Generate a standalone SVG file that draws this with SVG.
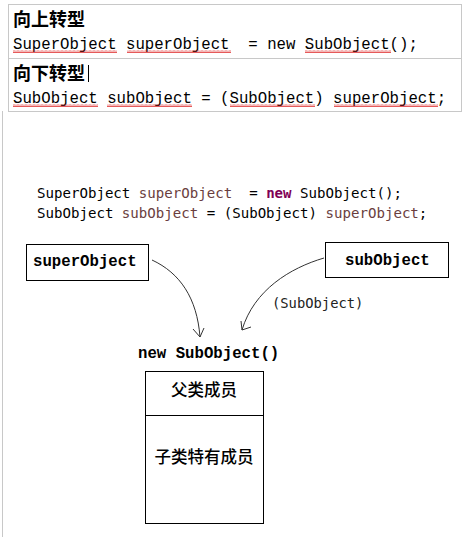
<svg xmlns="http://www.w3.org/2000/svg" width="475" height="537" viewBox="0 0 475 537">
<style>
.cn{font-family:"Noto Sans CJK SC","Noto Sans",sans-serif;fill:#000}
.m1{font-family:"Liberation Mono",monospace;font-size:15.7px;fill:#000}
.ec{font-family:"DejaVu Sans Mono",monospace;font-size:14.1px;fill:#000}
.v{fill:#6A3E3E}
.k{fill:#7F0055;font-weight:bold}
.box{fill:#fff;stroke:#000;stroke-width:1}
.bt{font-family:"Liberation Mono",monospace;font-size:15.7px;font-weight:bold;fill:#000}
.wave{fill:none;stroke:#e03030;stroke-width:0.8}
.conn{fill:none;stroke:#333;stroke-width:1}
</style>
<defs>
<pattern id="wv" x="0" y="0" width="4" height="3" patternUnits="userSpaceOnUse">
<path d="M0,2.5 L1,0.5 L2,2.5 L3,0.5 L4,2.5" fill="none" stroke="#e03030" stroke-width="0.8"/>
</pattern>
</defs>
<rect width="475" height="537" fill="#fff"/>
<line x1="2.5" y1="111" x2="2.5" y2="537" stroke="#c8c8c8" stroke-width="1"/>
<g id="table">
<rect x="8.5" y="4.5" width="453" height="107" fill="#fff" stroke="#c8c8c8" stroke-width="1"/>
<line x1="8.5" y1="58.5" x2="461.5" y2="58.5" stroke="#c8c8c8" stroke-width="1"/>
<text class="cn" x="13" y="26" font-size="18" font-weight="bold">向上转型</text>
<text class="m1" x="13" y="49" xml:space="preserve">SuperObject superObject  = new SubObject();</text>
<text class="cn" x="13" y="80" font-size="18" font-weight="bold">向下转型</text>
<line x1="88.5" y1="65" x2="88.5" y2="82" stroke="#000" stroke-width="1"/>
<text class="m1" x="13" y="103" xml:space="preserve">SubObject subObject = (SubObject) superObject;</text>
<g id="squiggles">
<rect x="13" y="50" width="104" height="3" fill="url(#wv)"/>
<rect x="127" y="50" width="104" height="3" fill="url(#wv)"/>
<rect x="305" y="50" width="86" height="3" fill="url(#wv)"/>
<rect x="13" y="104" width="85" height="3" fill="url(#wv)"/>
<rect x="107" y="104" width="85" height="3" fill="url(#wv)"/>
<rect x="230" y="104" width="85" height="3" fill="url(#wv)"/>
<rect x="334" y="104" width="104" height="3" fill="url(#wv)"/>
</g>
</g>
<g id="code">
<text class="ec" x="37" y="198" xml:space="preserve">SuperObject <tspan class="v">superObject</tspan>  = <tspan class="k">new</tspan> SubObject();</text>
<text class="ec" x="37" y="218" xml:space="preserve">SubObject <tspan class="v">subObject</tspan> = (SubObject) <tspan class="v">superObject</tspan>;</text>
</g>
<g id="node-superObject">
<rect class="box" x="26.5" y="244.5" width="122" height="36"/>
<text class="bt" x="33" y="266">superObject</text>
</g>
<g id="node-subObject">
<rect class="box" x="325.5" y="242.5" width="123" height="35"/>
<text class="bt" x="345" y="265">subObject</text>
</g>
<g id="connectors">
<path class="conn" d="M152,260 C180,273 197,298 200,337"/>
<polyline class="conn" points="193,329 200,337 204,328"/>
<path class="conn" d="M324,258 C290,268 254,290 242,330"/>
<polyline class="conn" points="241,321 242,330 251,327"/>
<text x="272" y="308" font-family="DejaVu Sans Mono, monospace" font-size="13.8" fill="#222">(SubObject)</text>
</g>
<g id="node-object">
<text class="bt" x="138" y="358" font-size="15.45">new SubObject()</text>
<rect class="box" x="145.5" y="371.5" width="118" height="152"/>
<line x1="145.5" y1="415.5" x2="263.5" y2="415.5" stroke="#000" stroke-width="1"/>
<text class="cn" x="204" y="396" font-size="16.5" font-weight="500" text-anchor="middle">父类成员</text>
<text class="cn" x="204" y="463" font-size="16.5" font-weight="500" text-anchor="middle">子类特有成员</text>
</g>
</svg>
